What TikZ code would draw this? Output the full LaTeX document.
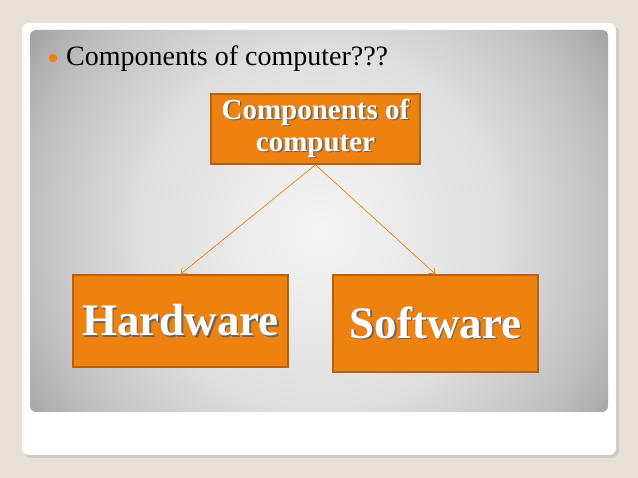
\documentclass[tikz,border=0pt]{standalone}
\usepackage{fontspec}
\setmainfont{Liberation Serif}
\usetikzlibrary{arrows.meta}
\definecolor{bgbeige}{HTML}{E6E0D5}
\definecolor{boxorange}{HTML}{EE8210}
\definecolor{boxedge}{HTML}{B9600C}
\pgfdeclareradialshading{panelshade}{\pgfpoint{0bp}{0bp}}{color(0bp)=(white!96!black); color(30bp)=(white!94.5!black); color(182bp)=(white!87!black); color(290bp)=(white!75!black); color(350bp)=(white!64!black); color(400bp)=(white!60!black)}
\newcommand\shtxt[1]{\makebox[0pt][l]{\hspace{1.5pt}\raisebox{-1.5pt}{\textcolor{black!60}{#1}}}#1}
\begin{document}
\begin{tikzpicture}[x=1pt,y=-1pt,
  obox/.style={draw=boxedge,line width=1.6pt,fill=boxorange,text=white,
     font=\bfseries,inner sep=0pt,align=center},
  conn/.style={draw=boxorange,line width=0.7pt,-{Straight Barb[length=5pt,width=8pt]}}]
\useasboundingbox (0,0) rectangle (638,478);
\fill[bgbeige] (0,0) rectangle (638,478);
\fill[black!25,opacity=0.6,rounded corners=7] (24,26) rectangle (619,458);
\fill[white,rounded corners=7] (22,23) rectangle (616,455);
\begin{scope}
  \clip[rounded corners=6] (30,30) rectangle (608,412);
  \node[inner sep=0pt] (panelbg) at (320,230) {\pgfuseshading{panelshade}};
\end{scope}
\fill[boxorange] (53,58) circle (4.3);
\node[anchor=base west,inner sep=0pt,font=\fontsize{28}{30}\selectfont] (title) at (66,66) {Components of computer???};
\node[obox,minimum width=209,minimum height=70,font=\bfseries\fontsize{29}{32}\selectfont] (top) at (315.5,129) {\shtxt{Components of}\\\shtxt{computer}};
\node[obox,minimum width=215,minimum height=92,font=\bfseries\fontsize{45}{48}\selectfont] (hw) at (180.5,321) {\shtxt{Hardware}};
\node[obox,minimum width=205,minimum height=97,font=\bfseries\fontsize{45}{48}\selectfont] (sw) at (435.5,323.5) {\shtxt{Software}};
\draw[conn] (top.south) -- (hw.north);
\draw[conn] (top.south) -- (sw.north);
\end{tikzpicture}
\end{document}
